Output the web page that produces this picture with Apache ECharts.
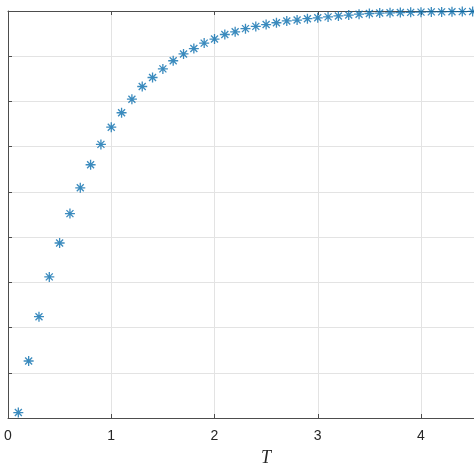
<!DOCTYPE html>
<html>
<head>
<meta charset="utf-8">
<script src="https://cdn.jsdelivr.net/npm/echarts@6/dist/echarts.min.js"></script>
<style>html,body{margin:0;padding:0;background:#fff;}#c{width:474px;height:474px;}</style>
</head>
<body>
<div id="c"></div>
<script>
var tValues = [0.1,0.2,0.3,0.4,0.5,0.6,0.7,0.8,0.9,1.0,1.1,1.2,1.3,1.4,1.5,1.6,1.7,1.8,1.9,2.0,2.1,2.2,2.3,2.4,2.5,2.6,2.7,2.8,2.9,3.0,3.1,3.2,3.3,3.4,3.5,3.6,3.7,3.8,3.9,4.0,4.1,4.2,4.3,4.4,4.5];
var yValues = [0.112,0.226,0.324,0.412,0.487,0.552,0.609,0.660,0.705,0.743,0.775,0.805,0.833,0.853,0.872,0.890,0.905,0.917,0.929,0.938,0.948,0.954,0.961,0.966,0.970,0.974,0.978,0.980,0.983,0.985,0.987,0.989,0.991,0.993,0.9945,0.9955,0.996,0.9965,0.997,0.9975,0.998,0.998,0.9985,0.9987,0.999];
var xTickLabels = ['0','1','2','3','4','5'];

var data = tValues.map(function(t,i){return [t,yValues[i]];});
var chart = echarts.init(document.getElementById('c'), null, {renderer:'canvas'});
var gridCol = '#e3e3e3', axCol = '#4d4d4d';
chart.setOption({
  animation:false,
  backgroundColor:'#ffffff',
  grid:{left:8, top:11, height:407, width:516.25, outerBoundsMode:'none', containLabel:false},
  xAxis:[{
    type:'value', min:0, max:5, interval:1, position:'bottom',
    name:'T', nameLocation:'middle', nameGap:31,
    nameTextStyle:{fontFamily:'Liberation Serif', fontStyle:'italic', fontSize:18, color:'#262626'},
    axisLine:{show:true, onZero:false, lineStyle:{color:axCol, width:1}},
    axisTick:{show:true, inside:true, length:4, lineStyle:{color:axCol}},
    axisLabel:{margin:11, fontFamily:'Liberation Sans', fontSize:14, color:'#262626',
      formatter:function(v){return xTickLabels[Math.round(v)];}},
    splitLine:{show:true, lineStyle:{color:gridCol, width:1}}
  },{
    type:'value', min:0, max:5, interval:1, position:'top',
    axisLine:{show:true, onZero:false, lineStyle:{color:axCol, width:1}},
    axisTick:{show:true, inside:true, length:4, lineStyle:{color:axCol}},
    axisLabel:{show:false}, splitLine:{show:false}
  }],
  yAxis:[{
    type:'value', min:0.1, max:1.0, interval:0.1, position:'left',
    axisLine:{show:true, onZero:false, lineStyle:{color:axCol, width:1}},
    axisTick:{show:true, inside:true, length:4, lineStyle:{color:axCol}},
    axisLabel:{show:false},
    splitLine:{show:true, lineStyle:{color:gridCol, width:1}}
  }],
  series:[{
    type:'scatter', xAxisIndex:0, yAxisIndex:0, data:data,
    symbol:'path://M5,0L5,10M0,5L10,5M1.5,1.5L8.5,8.5M1.5,8.5L8.5,1.5',
    symbolSize:10,
    itemStyle:{color:'rgba(0,0,0,0)', borderColor:'#0a6eae', borderWidth:1.3}
  }]
});
</script>
</body>
</html>
